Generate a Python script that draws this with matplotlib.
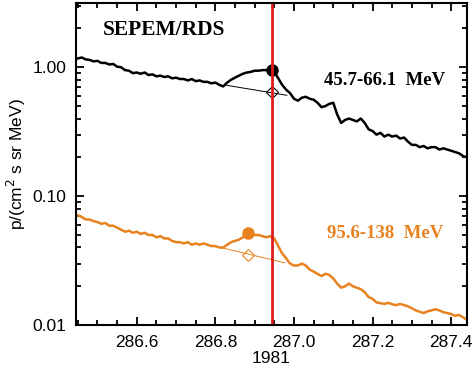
import numpy as np
import matplotlib
matplotlib.use("Agg")
import matplotlib.pyplot as plt
from matplotlib.ticker import FixedLocator, FormatStrFormatter, LogLocator, MultipleLocator, NullFormatter

# time axis (day of year 1981), 0.01 day steps
t = np.round(286.45 + 0.01 * np.arange(100), 2)

# 45.7-66.1 MeV proton intensity
p_low = [1.17, 1.19, 1.15, 1.14, 1.11, 1.12, 1.08, 1.08, 1.05, 1.06,
         1.01, 1.00, 0.95, 0.94, 0.90, 0.91, 0.89, 0.91, 0.87, 0.88,
         0.85, 0.86, 0.84, 0.85, 0.82, 0.83, 0.81, 0.81, 0.79, 0.81,
         0.78, 0.79, 0.77, 0.77, 0.75, 0.76, 0.73, 0.71, 0.76, 0.80,
         0.83, 0.86, 0.89, 0.91, 0.92, 0.94, 0.94, 0.95, 0.95, 0.96,
         0.92, 0.82, 0.73, 0.67, 0.63, 0.57, 0.55, 0.58, 0.59, 0.57,
         0.56, 0.53, 0.49, 0.50, 0.52, 0.53, 0.43, 0.37, 0.39, 0.40,
         0.39, 0.38, 0.40, 0.37, 0.33, 0.32, 0.30, 0.31, 0.29, 0.30,
         0.29, 0.295, 0.28, 0.285, 0.265, 0.25, 0.25, 0.24, 0.245, 0.235,
         0.24, 0.24, 0.23, 0.235, 0.23, 0.225, 0.22, 0.215, 0.205, 0.20]

# 95.6-138 MeV proton intensity
p_high = [0.071, 0.069, 0.066, 0.066, 0.064, 0.063, 0.061, 0.062, 0.059, 0.059,
          0.057, 0.055, 0.053, 0.054, 0.052, 0.053, 0.051, 0.052, 0.050, 0.050,
          0.048, 0.049, 0.047, 0.047, 0.045, 0.044, 0.044, 0.043, 0.044, 0.042,
          0.043, 0.042, 0.043, 0.042, 0.041, 0.041, 0.040, 0.040, 0.042, 0.044,
          0.045, 0.046, 0.048, 0.050, 0.052, 0.050, 0.050, 0.049, 0.048, 0.049,
          0.047, 0.041, 0.036, 0.033, 0.030, 0.029, 0.029, 0.030, 0.029, 0.027,
          0.026, 0.025, 0.024, 0.025, 0.0245, 0.023, 0.021, 0.0195, 0.020, 0.021,
          0.020, 0.0195, 0.019, 0.018, 0.0165, 0.016, 0.015, 0.0148, 0.0146, 0.0149,
          0.0145, 0.0143, 0.0146, 0.0143, 0.014, 0.0135, 0.013, 0.0127, 0.0124, 0.0128,
          0.013, 0.0133, 0.013, 0.0126, 0.0124, 0.0122, 0.0118, 0.012, 0.0115, 0.011]

# shock time, peaks and background lines
t_shock = 286.944
low_peak = (286.944, 0.96)
low_bg_pt = (286.944, 0.64)
low_bg_t = [286.829, 286.982]
low_bg_p = [0.724, 0.606]
high_peak = (286.883, 0.052)
high_bg_pt = (286.883, 0.0351)
high_bg_t = [286.814, 286.977]
high_bg_p = [0.040, 0.0304]

orange = "#e8821e"

plt.rcParams['font.family'] = ['Liberation Sans', 'DejaVu Sans']
fig = plt.figure(figsize=(4.74, 3.72), dpi=100)
ax = fig.add_axes([0.160, 0.126, 0.825, 0.866])

ax.plot(t, p_low, color="black", lw=1.8)
ax.plot(t, p_high, color=orange, lw=1.8)
ax.plot(low_bg_t, low_bg_p, color="black", lw=0.7)
ax.plot(high_bg_t, high_bg_p, color=orange, lw=0.7)
ax.plot(*low_peak, 'o', color="black", ms=8)
ax.plot(*low_bg_pt, 'D', mfc="none", mec="black", ms=6, mew=0.8)
ax.plot(*high_peak, 'o', color=orange, ms=8)
ax.plot(*high_bg_pt, 'D', mfc="none", mec=orange, ms=6, mew=0.8)
ax.axvline(t_shock, color="#dd1c1c", lw=2)

ax.set_yscale('log')
ax.set_xlim(286.445, 287.44)
ax.set_ylim(0.01, 3.15)

ax.yaxis.set_major_locator(FixedLocator([0.01, 0.1, 1.0]))
ax.yaxis.set_major_formatter(FormatStrFormatter('%.2f'))
ax.yaxis.set_minor_locator(LogLocator(base=10, subs=np.arange(2, 10)))
ax.yaxis.set_minor_formatter(NullFormatter())
ax.xaxis.set_major_locator(MultipleLocator(0.2))
ax.xaxis.set_major_formatter(FormatStrFormatter('%.1f'))
ax.xaxis.set_minor_locator(MultipleLocator(0.05))

ax.tick_params(which='both', direction='in', top=True, right=True, width=1.3)
ax.tick_params(which='major', length=6, labelsize=12.5, pad=7)
ax.tick_params(which='minor', length=3.5)
for s in ax.spines.values():
    s.set_linewidth(1.5)

ax.set_xlabel('1981', fontsize=12.5, labelpad=1)
ax.set_ylabel(r'p/(cm$^2$ s sr MeV)', fontsize=12.5, labelpad=3)

ax.text(0.225, 0.916, 'SEPEM/RDS', transform=ax.transAxes, ha='center', va='center',
        family='Liberation Serif', weight='bold', fontsize=15.5)
ax.text(0.79, 0.758, '45.7-66.1  MeV', transform=ax.transAxes, ha='center', va='center',
        family='Liberation Serif', weight='bold', fontsize=13.5, color='black')
ax.text(0.79, 0.284, '95.6-138  MeV', transform=ax.transAxes, ha='center', va='center',
        family='Liberation Serif', weight='bold', fontsize=13.5, color=orange)

plt.savefig('out.png', dpi=100)
